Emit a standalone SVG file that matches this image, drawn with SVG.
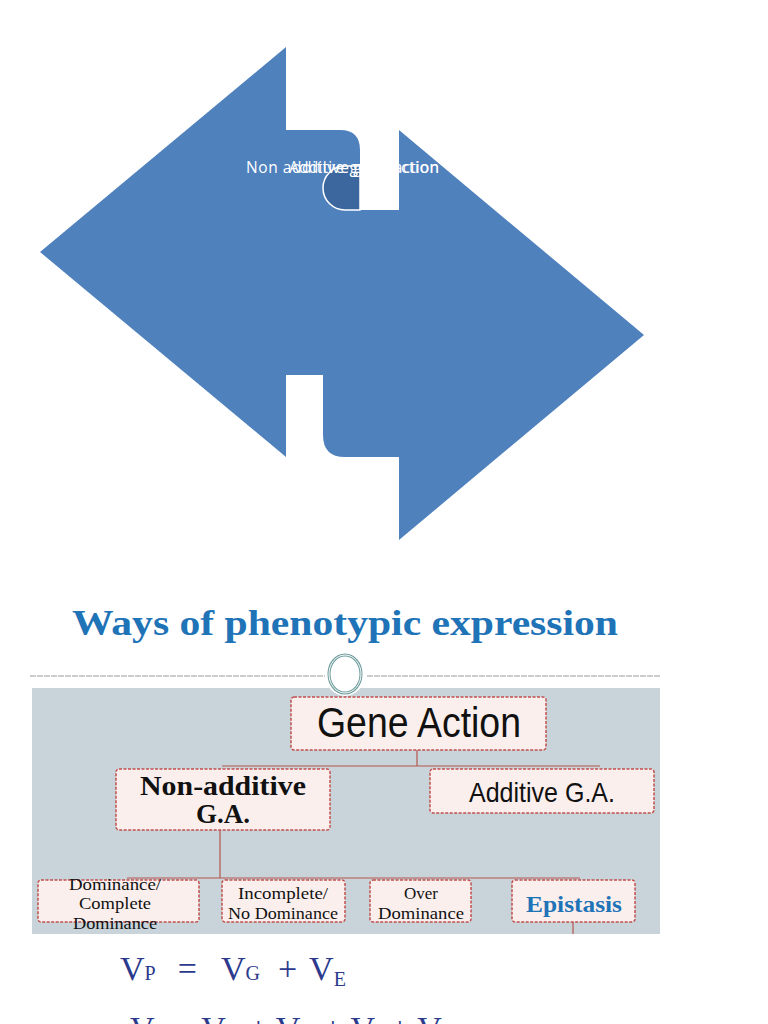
<svg xmlns="http://www.w3.org/2000/svg" width="768" height="1024" viewBox="0 0 768 1024">
<style>
.ar{fill:#4f81bd}
.at{font-family:"Open Sans",sans-serif;font-size:15.5px;fill:#fff}
.bx{fill:#fbefed;stroke:#c0504d;stroke-width:1.5;stroke-dasharray:3 1.5}
.n{font-family:"Liberation Sans",sans-serif;fill:#111;text-anchor:middle}
.s{font-family:"Liberation Serif",serif;fill:#111;text-anchor:middle}
.ln{stroke:#b5584e;stroke-width:1.2;fill:none}
.eq{font-family:"Liberation Serif",serif;fill:#2b3a8c;font-size:34px}
.sb{font-size:20px}
</style>
<g id="arrow-nonadditive">
<path class="ar" d="M40,252 L286,47 L286,130 L340,130 Q360,130 360,150 L360,375 L286,375 L286,457 Z"/>
</g>
<g id="arrow-additive">
<path class="ar" d="M345,210 L399,210 L399,130 L644,335 L399,540 L399,457 L345,457 Q323,457 323,435 L323,188 Z"/>
<path d="M360,166 L360,210 L345,210 A22,22 0 0 1 345,166 Z" fill="#3c679e" stroke="#fff" stroke-width="1.5"/>
</g>
<text class="at" x="246" y="173" textLength="193">Non additive gene action</text>
<text class="at" x="289" y="173" textLength="150">Additive gene action</text>
<text x="345" y="635" text-anchor="middle" font-family="Liberation Serif,serif" font-weight="bold" font-size="36" fill="#1f73b7" textLength="546" lengthAdjust="spacingAndGlyphs">Ways of phenotypic expression</text>
<line x1="30" y1="676" x2="325" y2="676" stroke="#999" stroke-width="1" stroke-dasharray="6 1"/>
<line x1="367" y1="676" x2="660" y2="676" stroke="#999" stroke-width="1" stroke-dasharray="6 1"/>
<rect x="32" y="688" width="628" height="246" fill="#c9d3da"/>
<ellipse cx="345" cy="674" rx="20" ry="22" fill="#fff"/>
<ellipse cx="345" cy="674" rx="16" ry="19" fill="none" stroke="#6a9a9a" stroke-width="3"/>
<ellipse cx="345" cy="674" rx="16" ry="19" fill="none" stroke="#fff" stroke-width="1"/>
<g id="connectors">
<path class="ln" d="M417,750 V766 M222,766 H600 M220,830 V878 M127,878 H580 M573,922 V934"/>
</g>
<g id="gene-action"><rect class="bx" x="291" y="697" width="255" height="53" rx="3"/><text class="n" x="419" y="737" font-size="42" textLength="204" lengthAdjust="spacingAndGlyphs">Gene Action</text></g>
<g id="non-additive"><rect class="bx" x="116" y="769" width="214" height="61" rx="3"/><text class="s" x="223" y="795" font-size="27" font-weight="bold" textLength="166" lengthAdjust="spacingAndGlyphs">Non-additive</text><text class="s" x="223" y="823" font-size="27" font-weight="bold">G.A.</text></g>
<g id="additive"><rect class="bx" x="430" y="769" width="224" height="44" rx="3"/><text class="n" x="542" y="802" font-size="28" textLength="146" lengthAdjust="spacingAndGlyphs">Additive G.A.</text></g>
<g id="dominance"><rect class="bx" x="38" y="880" width="161" height="42" rx="3"/><text class="s" x="115" y="890" font-size="17" textLength="92" lengthAdjust="spacingAndGlyphs">Dominance/</text><text class="s" x="115" y="909" font-size="17" textLength="72" lengthAdjust="spacingAndGlyphs">Complete</text><text class="s" x="115" y="929" font-size="17" textLength="84" lengthAdjust="spacingAndGlyphs">Dominance</text></g>
<g id="incomplete"><rect class="bx" x="222" y="880" width="123" height="42" rx="3"/><text class="s" x="283" y="899" font-size="17" textLength="90" lengthAdjust="spacingAndGlyphs">Incomplete/</text><text class="s" x="283" y="919" font-size="17" textLength="110" lengthAdjust="spacingAndGlyphs">No Dominance</text></g>
<g id="over"><rect class="bx" x="370" y="880" width="101" height="42" rx="3"/><text class="s" x="421" y="899" font-size="17">Over</text><text class="s" x="421" y="919" font-size="17" textLength="86" lengthAdjust="spacingAndGlyphs">Dominance</text></g>
<g id="epistasis"><rect class="bx" x="512" y="880" width="123" height="42" rx="3"/><text class="s" x="574" y="912" font-size="24" font-weight="bold" style="fill:#1f73b7" textLength="96" lengthAdjust="spacingAndGlyphs">Epistasis</text></g>
<text class="eq" x="120" y="980">V<tspan class="sb">P</tspan><tspan dx="22">=</tspan><tspan dx="24">V</tspan><tspan class="sb">G</tspan><tspan dx="18">+</tspan><tspan dx="12">V</tspan><tspan class="sb" dy="6">E</tspan></text>
<text class="eq" x="130" y="1040">V<tspan class="sb">P</tspan> = V<tspan class="sb">A</tspan> + V<tspan class="sb">D</tspan> + V<tspan class="sb">I</tspan> + V<tspan class="sb">E</tspan></text>
</svg>
